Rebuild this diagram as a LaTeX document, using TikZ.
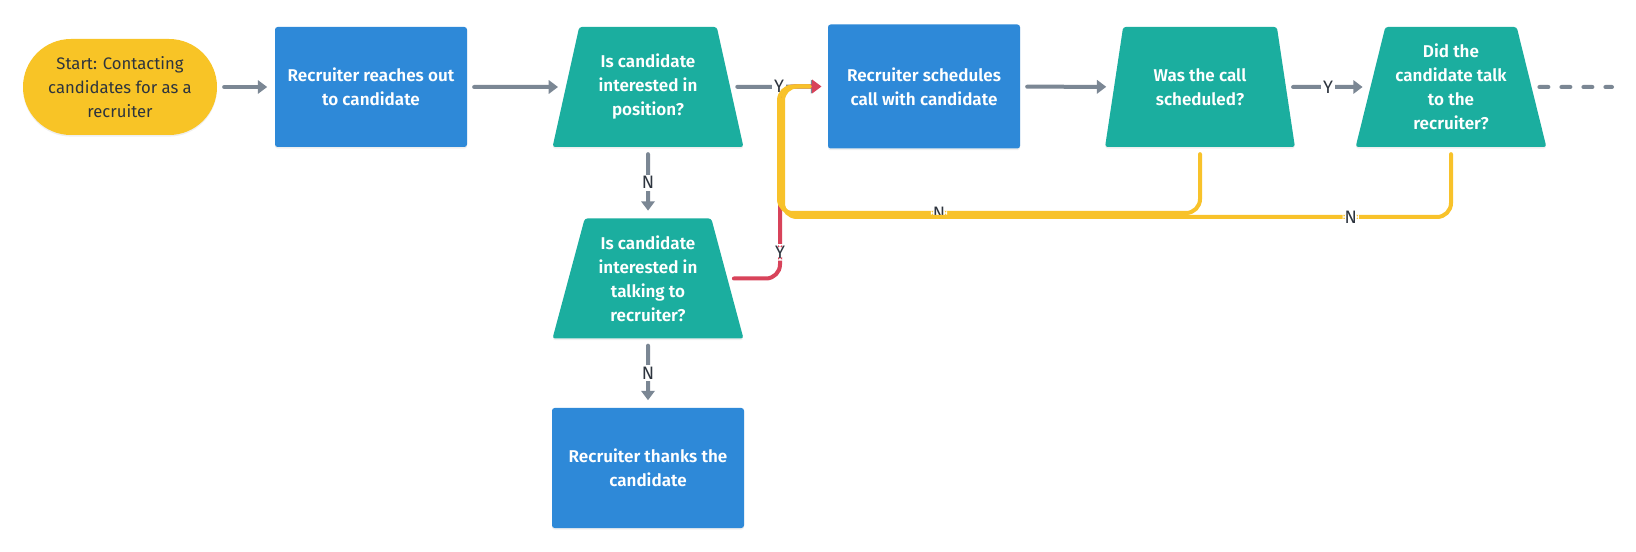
\documentclass[tikz,border=0pt]{standalone}
\usepackage{fontspec}
\setmainfont{Fira Sans}[BoldFont={Fira Sans SemiBold}]
\usetikzlibrary{shapes.geometric,arrows.meta,shadows}

\definecolor{startyellow}{RGB}{248,196,38}
\definecolor{taskblue}{RGB}{46,137,216}
\definecolor{askteal}{RGB}{27,174,159}
\definecolor{flowgray}{RGB}{123,135,148}
\definecolor{yesred}{RGB}{216,67,90}
\definecolor{noyellow}{RGB}{248,194,42}
\definecolor{inktext}{RGB}{45,52,62}

\tikzset{every picture/.style={line width=0.75pt}}
\tikzset{
  softshadow/.style={drop shadow={shadow xshift=0pt,shadow yshift=-1.2pt,opacity=0.12}},
  startnode/.style={fill=startyellow, rounded corners=36pt, minimum width=145.5pt, minimum height=72pt,
    align=center, inner sep=0pt, text=inktext, font=\fontsize{12.5}{18}\selectfont, softshadow},
  taskbox/.style={fill=taskblue, rounded corners=2pt, minimum width=144pt, minimum height=90pt,
    align=center, inner sep=0pt, text=white, font=\bfseries\fontsize{12.8}{18}\selectfont, softshadow},
  askbox/.style={trapezium, trapezium left angle=73.7, trapezium right angle=73.7, trapezium stretches=true,
    fill=askteal, rounded corners=2pt, minimum width=143.25pt, minimum height=90pt,
    align=center, inner sep=0pt, text=white, font=\bfseries\fontsize{12.8}{18}\selectfont, softshadow},
  flowline/.style={draw=flowgray, line width=3pt, line cap=round, shorten <=5pt, shorten >=5.5pt,
    -{Triangle[length=7pt,width=10pt]}},
  yesline/.style={draw=yesred, line width=3pt, line cap=round, rounded corners=10.5pt, shorten <=4.5pt, shorten >=4.5pt,
    -{Triangle[length=7pt,width=10pt]}},
  noline/.style={draw=noyellow, line width=3pt, line cap=round, rounded corners=10.5pt, shorten <=5pt, shorten >=13.5pt},
  edgelabel/.style={fill=white, inner sep=1.5pt, text=inktext, font=\fontsize{13.5}{15}\selectfont},
}

\begin{document}
\begin{tikzpicture}[x=0.75pt,y=0.75pt,yscale=-1,xscale=1]
        \fill[white] (0,0) rectangle (1636,552);
        \useasboundingbox (0,0) rectangle (1636,552);

        %Shape: Stadium [id:start]
        \draw (120,87) node [startnode] (start) {Start: Contacting\\candidates for as a\\recruiter};
        %Shape: Rectangle [id:reach]
        \draw (371,87) node [taskbox] (reach) {Recruiter reaches out\\to candidate};
        %Shape: Trapezoid [id:posq]
        \draw (648,87) node [askbox] (posq) {Is candidate\\interested in\\position?};
        %Shape: Rectangle [id:sched]
        \draw (924,86.5) node [taskbox, minimum height=93pt] (sched) {Recruiter schedules\\call with candidate};
        %Shape: Trapezoid [id:callq]
        \draw (1200,87) node [askbox] (callq) {Was the call\\scheduled?};
        %Shape: Trapezoid [id:talkq]
        \draw (1451,87) node [askbox] (talkq) {Did the\\candidate talk\\to the\\recruiter?};
        %Shape: Trapezoid [id:talkrq]
        \draw (648,278.5) node [askbox] (talkrq) {Is candidate\\interested in\\talking to\\recruiter?};
        %Shape: Rectangle [id:thanks]
        \draw (648,468) node [taskbox] (thanks) {Recruiter thanks the\\candidate};

        % Coordinates for the loops back
        \coordinate (jointx) at (780,0);
        \coordinate (loopA) at (779,213);
        \coordinate (loopB) at (783,217);
        \coordinate (dashend) at (1612,87);

        %Straight Lines [id:start-reach]
        \draw [flowline] (start) -- (reach);
        %Straight Lines [id:reach-posq]
        \draw [flowline] (reach) -- (posq);
        %Straight Lines [id:posq-sched]
        \draw [flowline] (posq) -- (sched) node [edgelabel, midway] {Y};
        %Straight Lines [id:posq-talkrq]
        \draw [flowline] (posq.south) -- (talkrq.north) node [edgelabel, midway] {N};
        %Straight Lines [id:talkrq-thanks]
        \draw [flowline] (talkrq.south) -- (thanks.north) node [edgelabel, midway] {N};
        %Straight Lines [id:sched-callq]
        \draw [flowline] (sched) -- (callq);
        %Straight Lines [id:callq-talkq]
        \draw [flowline] (callq) -- (talkq) node [edgelabel, midway] {Y};
        %Straight Lines [id:talkq-more]
        \draw [draw=flowgray, line width=3pt, line cap=round, dash pattern=on 6.75pt off 9.75pt, shorten <=5.5pt] (talkq.east) -- (dashend);

        %Elbow Lines [id:talkrq-sched]
        \draw [yesline] (talkrq.east) -| (sched.west -| jointx) node [edgelabel, pos=0.568] {Y} -- (sched.west);
        %Elbow Lines [id:callq-sched]
        \draw [noline] (callq.south) |- (loopA) node [edgelabel, pos=0.81] {N} |- (sched.west);
        %Elbow Lines [id:talkq-sched]
        \draw [noline] (talkq.south) |- (loopB) node [edgelabel, pos=0.575] {N} |- (sched.west);

    \end{tikzpicture}
\end{document}
